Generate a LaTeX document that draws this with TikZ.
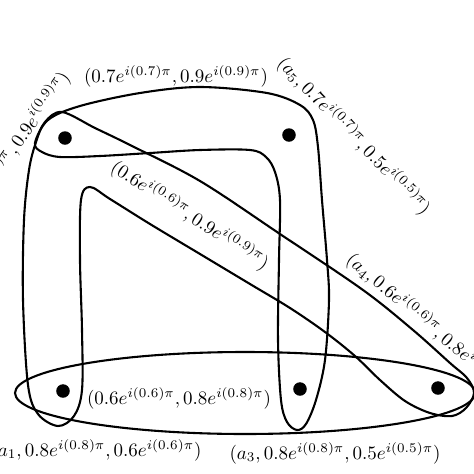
\documentclass[tikz,border=0pt]{standalone}
\usepackage{amsmath}
\usetikzlibrary{calc}
\begin{document}
\begin{tikzpicture}[x=0.185mm,y=-0.185mm, line width=1.1pt,
  vdot/.style={circle, fill=black, inner sep=0, minimum size=2.5mm},
  elabel/.style={inner sep=1pt}]
\useasboundingbox (0,0) rectangle (474,474);
% vertices
\foreach \n/\x/\y in {1/63/391, 2/65/138, 3/300/389, 4/438/388, 5/289/135} {
 \node[vdot] (a\n) at (\x,\y) {};
}
% hyperedge {a1,a3,a4}
\draw (245,393) ellipse (230 and 41);
% hyperedge {a1,a2,a4}
\draw plot[smooth cycle, tension=.55] coordinates {
 (58,426) (38,414) (28,385) (23,300) (24,220) (29,170) (36,142) (45,122) (62,112) (95,128)
 (130,145) (200,181) (280,234) (363,290) (413,330) (450,363) (467,378) (474,393) (466,408) (452,416)
 (430,413) (405,401) (380,380) (355,356) (325,332) (290,308) (250,284) (200,254) (150,224) (110,199) (90,187)
 (81,200) (80,260) (82,330) (82,390) (74,416)};
% hyperedge {a2,a5,a3}
\draw plot[smooth cycle, tension=.55] coordinates {
 (35,143) (48,120) (80,106) (140,93) (200,87) (267,93) (300,105) (313,120) (318,147)
 (322,200) (327,260) (329,300) (325,360) (316,400) (306,424) (297,430) (287,422) (281,400)
 (278,340) (279,260) (280,200) (275,172) (266,157) (250,150) (200,150) (150,153) (100,156) (60,157) (42,152)};
% edge labels
\node[elabel] (e1) at (176,76) {$(0.7e^{i(0.7)\pi}, 0.9e^{i(0.9)\pi})$};
\node[elabel, rotate=-33] (e2) at (190,215) {$(0.6e^{i(0.6)\pi}, 0.9e^{i(0.9)\pi})$};
\node[elabel] (e3) at (179,398) {$(0.6e^{i(0.6)\pi}, 0.8e^{i(0.8)\pi})$};
% vertex labels
\node[elabel] (l1) at (96,450) {$(a_1, 0.8e^{i(0.8)\pi}, 0.6e^{i(0.6)\pi})$};
\node[elabel, rotate=55] (l2) at (5,160) {$(a_2, 0.7e^{i(0.7)\pi}, 0.9e^{i(0.9)\pi})$};
\node[elabel] (l3) at (335,453) {$(a_3, 0.8e^{i(0.8)\pi}, 0.5e^{i(0.5)\pi})$};
\node[elabel, rotate=-40] (l4) at (430,325) {$(a_4, 0.6e^{i(0.6)\pi}, 0.8e^{i(0.8)\pi})$};
\node[elabel, rotate=-46] (l5) at (354,136) {$(a_5, 0.7e^{i(0.7)\pi}, 0.5e^{i(0.5)\pi})$};
\end{tikzpicture}
\end{document}
